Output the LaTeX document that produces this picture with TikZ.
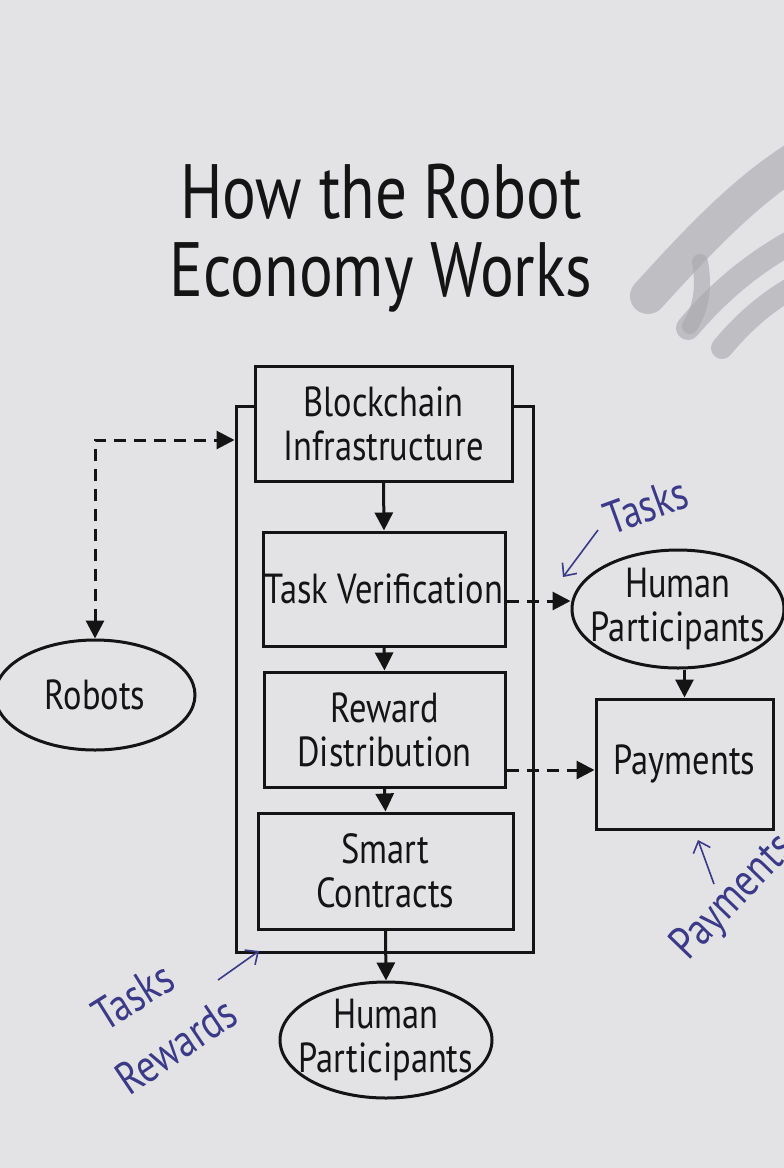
\documentclass[tikz,border=0pt]{standalone}
\usepackage{fontspec}
\setmainfont{PT Sans}[FakeStretch=0.82]
\usetikzlibrary{arrows.meta,shapes.geometric}
\definecolor{paper}{HTML}{E3E3E6}
\definecolor{ink}{HTML}{141414}
\definecolor{pen}{HTML}{3A3A88}
\definecolor{pencil}{HTML}{A8A8AC}
\tikzset{
  box/.style={draw=ink, fill=paper, rectangle, inner sep=0pt, align=center,
    font=\fontsize{42}{44}\selectfont, text=ink},
  oval/.style={draw=ink, ellipse, inner sep=0pt},
  txt/.style={align=center, font=\fontsize{42}{44}\selectfont, text=ink, inner sep=0pt},
  arr/.style={draw=ink, -{Triangle[length=18pt,width=18pt]}},
  dasharr/.style={draw=ink, dash pattern=on 12pt off 8pt, -{Triangle[length=18pt,width=18pt]}},
  note/.style={text=pen, font=\fontsize{46}{48}\selectfont, inner sep=0pt},
  notearr/.style={draw=pen, line width=1.6pt, -{Straight Barb[length=10pt,width=18pt]}},
}
\begin{document}
\begin{tikzpicture}[x=1pt,y=-1pt,line width=3pt]
\fill[paper] (0,0) rectangle (784,1168);
\useasboundingbox (0,0) rectangle (784,1168);
% pencil scribble
\begin{scope}[pencil, line cap=round, opacity=0.6]
  \draw[line width=36pt] (648,296) .. controls (690,250) and (740,195) .. (795,160);
  \draw[line width=24pt] (688,328) .. controls (720,290) and (755,262) .. (795,240);
  \draw[line width=22pt] (722,348) .. controls (745,320) and (770,300) .. (795,286);
  \draw[line width=16pt] (700,262) .. controls (705,290) and (700,310) .. (690,326);
\end{scope}
% title
\node[txt, font=\fontsize{77}{78}\selectfont] (title) at (381,238) {How the Robot\\Economy Works};
% outer frame
\node[draw=ink, rectangle, minimum width=297pt, minimum height=546pt, inner sep=0pt] (frame) at (384.5,679) {};
% boxes
\node[box, minimum width=257pt, minimum height=115pt] (bc) at (383.5,423.5) {Blockchain\\Infrastructure};
\node[box, minimum width=242pt, minimum height=114pt] (tv) at (384,589) {Task Verification};
\node[box, minimum width=241pt, minimum height=115pt] (rd) at (384.5,729.5) {Reward\\Distribution};
\node[box, minimum width=255pt, minimum height=116pt] (sc) at (385.5,871) {Smart\\Contracts};
\node[box, minimum width=177pt, minimum height=130pt] (pay) at (684.5,764) {Payments};
% ellipses
\node[oval, minimum width=212pt, minimum height=118pt] (hp1) at (678,609) {};
\node[txt] at (hp1) {Human\\Participants};
\node[oval, minimum width=212pt, minimum height=116pt] (hp2) at (386,1040) {};
\node[txt] at (hp2) {Human\\Participants};
\node[oval, minimum width=200pt, minimum height=110pt] (rob) at (95,695) {};
\node[txt] at (rob) {Robots};
% connectors
\draw[arr] (bc.south) -- (tv.north);
\draw[arr] (tv.south) -- (rd.north);
\draw[arr] (rd.south) -- (sc.north);
\draw[arr] (sc.south) -- (hp2.north);
\draw[arr] (pay.north |- hp1.south) -- (pay.north);
\draw[dasharr] ([yshift=-12pt]tv.east) -- ([yshift=8pt]hp1.west);
\draw[dasharr] ([yshift=-6pt]rd.east |- pay.west) -- ([yshift=-6pt]pay.west);
\coordinate (fin) at (frame.west |- 0,440);
\draw[dasharr, {Triangle[length=18pt,width=18pt]}-{Triangle[length=18pt,width=18pt]}] (rob.north) |- (fin);
% annotations
\node[note, rotate=20] (nt1) at (646,506) {Tasks};
\coordinate (nt1a) at (598,530);
\coordinate (nt1b) at (563,577);
\draw[notearr] (nt1a) -- (nt1b);
\node[note, rotate=46] (np) at (734,898) {Payments};
\coordinate (npa) at (714,884);
\coordinate (npb) at (698,840);
\draw[notearr] (npa) -- (npb);
\node[note, rotate=32] (nt2) at (133,996) {Tasks};
\node[note, rotate=34] (nr) at (176,1046) {Rewards};
\coordinate (nra) at (218,980);
\coordinate (nrb) at (259,951);
\draw[notearr] (nra) -- (nrb);
\end{tikzpicture}
\end{document}
